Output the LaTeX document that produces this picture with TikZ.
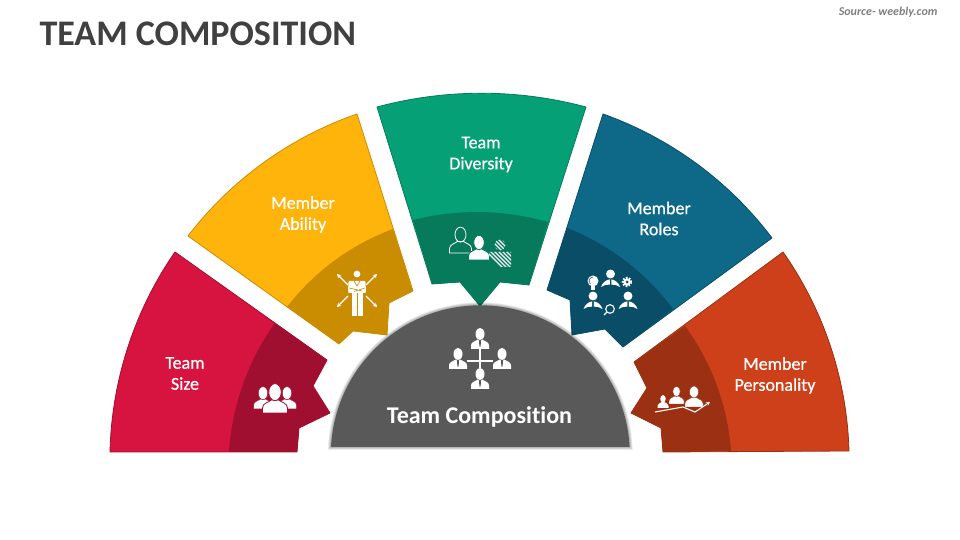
\documentclass[tikz,border=0pt]{standalone}
\usepackage{fontspec}
\setmainfont{Carlito}[Ligatures=NoCommon]
\newfontfamily\labelfont{Carlito}[FakeBold=.7]
\usepackage{tikz}
\usetikzlibrary{arrows.meta, positioning}

\definecolor{sizered}{HTML}{D6143F}
\definecolor{sizedark}{HTML}{A00F30}
\definecolor{abilityyellow}{HTML}{FFB40C}
\definecolor{abilitydark}{HTML}{CA8C00}
\definecolor{diversegreen}{HTML}{06A077}
\definecolor{diversedark}{HTML}{067A5B}
\definecolor{rolesblue}{HTML}{0E6888}
\definecolor{rolesdark}{HTML}{0A4D66}
\definecolor{personorange}{HTML}{CE401A}
\definecolor{persondark}{HTML}{9C3013}
\definecolor{compgray}{HTML}{595959}

\tikzset{
    arcside/.style={bend left=#1,looseness=.87},
    sector/.style={line width=.8pt,line join=round},
    labeltext/.style={text=white,align=center,font=\labelfont\fontsize{18}{21}\selectfont},
    iconline/.style={draw=white,line width=1.1pt},
    pics/bust/.style={code={
        \path[pic actions] (-1,0) -- (-1,.4) .. controls (-1,.8) and (-.5,.85) .. (-.28,1.05) -- (.28,1.05) .. controls (.5,.85) and (1,.8) .. (1,.4) -- (1,0) -- cycle;
        \path[pic actions] (0,1.67) ellipse[x radius=.5,y radius=.68];
    }},
    pics/suit/.style={code={
        \fill[white] (-1,0) -- (-1,.4) .. controls (-1,.8) and (-.5,.85) .. (-.28,1.05) -- (.28,1.05) .. controls (.5,.85) and (1,.8) .. (1,.4) -- (1,0) -- cycle;
        \fill[white] (0,1.67) ellipse[x radius=.5,y radius=.68];
        \fill[compgray] (-.12,1.02) -- (.12,1.02) -- (.07,.35) -- (0,.2) -- (-.07,.35) -- cycle;
    }},
    pics/wingbust/.style={code={
        \fill[white] (0,1.37) circle[radius=.47];
        \fill[white] (-1,0) .. controls (-.85,.45) and (-.45,.78) .. (-.08,.8) -- (-.08,.25) .. controls (-.4,.28) and (-.7,.2) .. cycle;
        \fill[white] (1,0) .. controls (.85,.45) and (.45,.78) .. (.08,.8) -- (.08,.25) .. controls (.4,.28) and (.7,.2) .. cycle;
    }}
}

\begin{document}
\begin{tikzpicture}[x=1pt,y=1pt]
    \useasboundingbox (0,0) rectangle (960,540);

    % Title and source
    \node[anchor=west,text=black!75,font=\fontsize{36}{42}\selectfont\bfseries] (title) at (36,506) {TEAM COMPOSITION};
    \node[anchor=east,text=black!50,font=\fontsize{12}{14}\selectfont\bfseries\itshape] (source) at (941,527.5) {Source- weebly.com};

    % Team Size
    \draw[sector,fill=sizered,draw=sizedark] (110,88) to[arcside=16.7] (175,288) -- (327,180) -- (313,154) -- (330,127) -- (299,112) -- (297,88) -- cycle;
    \fill[sizedark] (229,88) to[arcside=16] (275,217) -- (327,180) -- (313,154) -- (330,127) -- (299,112) -- (297,88) -- cycle;

    % Member Ability
    \draw[sector,fill=abilityyellow,draw=abilitydark] (188,304) to[arcside=16.7] (357,426) -- (413,249) -- (389,237) -- (387,205) -- (353,209) -- (339,196) -- cycle;
    \fill[abilitydark] (287,233) to[arcside=16] (393,311) -- (413,249) -- (389,237) -- (387,205) -- (353,209) -- (339,196) -- cycle;

    % Team Diversity
    \draw[sector,fill=diversegreen,draw=diversedark] (377,433) to[arcside=15] (586,433) -- (529,255) -- (500,258) -- (480,234) -- (460,258) -- (432,256) -- cycle;
    \fill[diversedark] (413,320) to[arcside=15] (548,318) -- (529,255) -- (500,258) -- (480,234) -- (460,258) -- (432,256) -- cycle;

    % Member Roles
    \draw[sector,fill=rolesblue,draw=rolesdark] (603,426) to[arcside=16.7] (772,302) -- (623,193) -- (605,211) -- (572,205) -- (570,240) -- (547,250) -- cycle;
    \fill[rolesdark] (567,312) to[arcside=16] (673,231) -- (623,193) -- (605,211) -- (572,205) -- (570,240) -- (547,250) -- cycle;

    % Member Personality
    \draw[sector,fill=personorange,draw=persondark] (783,288) to[arcside=16.7] (849,89) -- (663,88) -- (661,112) -- (631,127) -- (647,152) -- (634,178) -- cycle;
    \fill[persondark] (685,214) to[arcside=16] (731,89) -- (663,88) -- (661,112) -- (631,127) -- (647,152) -- (634,178) -- cycle;

    % Soft rim and centre half disc
    \foreach \w in {1,2,...,6}
        \draw[black,opacity=.06,line width=\w pt] (331,93) arc[start angle=177,end angle=3,radius=149.5] -- cycle;
    \fill[compgray] (331,93) arc[start angle=177,end angle=3,radius=149.5] -- cycle;

    % Labels
    \node[labeltext] (sizelabel) at (185,166.5) {Team\\Size};
    \node[labeltext] (abilitylabel) at (303,325.5) {Member\\Ability};
    \node[labeltext] (diversitylabel) at (481,385.5) {Team\\Diversity};
    \node[labeltext] (roleslabel) at (659,321.5) {Member\\Roles};
    \node[labeltext] (personalitylabel) at (775,164.5) {Member\\Personality};
    \node[text=white,font=\fontsize{24}{28}\selectfont\bfseries] (complabel) at (479.5,123) {Team Composition};

    % Icon: three people
    \pic[fill=white,draw=sizedark,line width=.5pt,scale=9.5] at (263,131) {bust};
    \pic[fill=white,draw=sizedark,line width=.5pt,scale=9.5] at (287,131) {bust};
    \pic[fill=white,draw=sizedark,line width=.8pt,scale=12.5] at (275,127) {bust};

    % Icon: person with four arrows
    \foreach \ex/\ey/\tx/\ty in {348/255/337/266, 366/255/377/266, 348/244/337/233, 366/244/377/233}
        \draw[-{Stealth[length=4pt,width=4.5pt]},white,line width=1.1pt] (\ex,\ey) -- (\tx,\ty);
    \fill[white] (357,266) circle[radius=3.4];
    \fill[white,rounded corners=1pt] (348.5,259) -- (365.5,259) -- (366,247) -- (348,247) -- cycle;
    \fill[white] (352,247) rectangle (356.6,224);
    \fill[white] (358,247) rectangle (362.6,224);
    \draw[abilitydark,line width=.6pt] (349,252) -- (362,249) (365,252) -- (354,248.5) (354,259) -- (357,254) -- (360,259);

    % Icon: outlined person, solid person, hatched person
    \pic[draw=white,line width=.8pt,scale=11] at (460.5,287) {bust};
    \pic[fill=white,draw=diversedark,line width=.8pt,scale=10.5] at (479,280) {bust};
    \begin{scope}
        \clip (500,295) circle[radius=5.5] (489,273) rectangle (511,288);
        \foreach \i in {0,1,...,11}
            \draw[white,line width=1.2pt] (470+\i*4,305) -- ++(35,-35);
    \end{scope}

    % Icon: ring of people with bulb, gear, lens
    \pic[scale=9.5] at (610.5,253) {wingbust};
    \pic[scale=9.5] at (593,231) {wingbust};
    \pic[scale=9.5] at (628,231) {wingbust};
    \fill[white] (593,259) circle[radius=5.5];
    \fill[white] (591,254) rectangle (595,250);
    \draw[rolesdark,line width=.6pt] (593,263) arc[start angle=90,end angle=230,radius=4];
    \draw[white,line width=2pt,dash pattern=on 1.5pt off 1.5pt] (627,258) circle[radius=4.2];
    \fill[white] (627,258) circle[radius=3.8];
    \fill[rolesdark] (627,258) circle[radius=1.5];
    \draw[iconline] (610,231) circle[radius=4.3] (607,228) -- (604,225);

    % Icon: people above a rising arrow
    \pic[fill=white,scale=5.5] at (663,132) {bust};
    \pic[fill=white,draw=persondark,line width=.4pt,scale=7.5] at (676.5,136) {bust};
    \pic[fill=white,draw=persondark,line width=.4pt,scale=9] at (694,133) {bust};
    \draw[-{Stealth[length=4pt,width=4pt]},white,line width=1.1pt] (655,128) -- (683,133) -- (695,128) -- (710,138);

    % Icon: four people joined by a cross
    \draw[white,line width=1.3pt] (480,191) -- (480,172) (467,179) -- (493,179);
    \pic[scale=9] at (480,191) {suit};
    \pic[scale=9] at (458,171) {suit};
    \pic[scale=9] at (502,171) {suit};
    \pic[scale=9] at (480,151) {suit};

\end{tikzpicture}
\end{document}
